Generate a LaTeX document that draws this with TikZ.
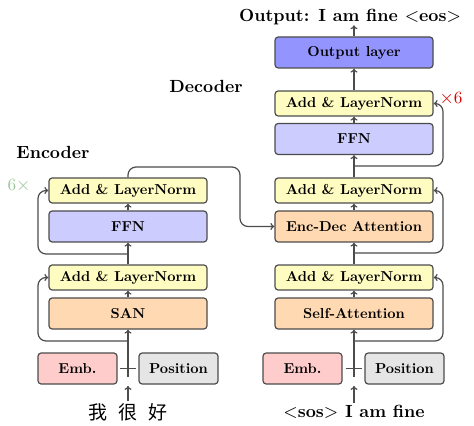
\documentclass[tikz,border=0pt]{standalone}
\usepackage{fontspec}
\setmainfont{lmroman10-regular.otf}[BoldFont=lmroman10-bold.otf, ItalicFont=lmroman10-italic.otf]
\newfontfamily\cjk{Noto Sans CJK SC}
\usetikzlibrary{arrows.meta}
\begin{document}
\begin{tikzpicture}[x=0.5pt,y=-0.5pt,
  box/.style={draw=black!70, line width=0.6pt, rounded corners=1.6pt, minimum width=79pt, inner sep=0pt, font=\fontsize{7.2}{8.6}\selectfont\bfseries},
  lnbox/.style={box, fill=yellow!24, minimum height=12.5pt},
  ffnbox/.style={box, fill=blue!20, minimum height=15.5pt},
  attbox/.style={box, fill=orange!30, minimum height=15.5pt},
  outbox/.style={box, fill=blue!42, minimum height=15.5pt},
  embbox/.style={box, fill=red!20, minimum width=39.5pt, minimum height=15.5pt},
  posbox/.style={box, fill=black!10, minimum width=39.5pt, minimum height=15.5pt},
  head/.style={font=\fontsize{8.8}{10}\selectfont\bfseries, inner sep=0pt},
  arr/.style={draw=black!70, line width=0.6pt, -{To[length=2pt,width=3.5pt]}},
  plainline/.style={draw=black!70, line width=0.6pt},
  plusn/.style={inner sep=0pt, minimum size=8pt}
]
\useasboundingbox (0,0) rectangle (474,426);
% Encoder
\node[head] (enctitle) at (53,152) {Encoder};
\node[inner sep=0pt, text=green!45!black!40!white, font=\fontsize{8.6}{10}\selectfont] (sixE) at (19,186) {6$\times$};
\node[lnbox] (encLN2) at (128,190.5) {Add \& LayerNorm};
\node[ffnbox] (encFFN) at (128,226.5) {FFN};
\node[lnbox] (encLN1) at (128,277.5) {Add \& LayerNorm};
\node[attbox] (SAN) at (128,313.5) {SAN};
\node[embbox] (embE) at (77.5,368.5) {Emb.};
\node[posbox] (posE) at (178.5,368.5) {Position};
\node[plusn] (plusE) at (128,368.5) {};
\node[inner sep=1pt, font=\cjk\fontsize{9.5}{10}\selectfont] (inE) at (128,412) {我\hspace{5.5pt}很\hspace{5.5pt}好};
% Decoder
\node[head] (dectitle) at (206,86.5) {Decoder};
\node[head] (outtext) at (350,17) {Output: I am fine $<$eos$>$};
\node[outbox] (outL) at (354,52.5) {Output layer};
\node[lnbox] (decLN3) at (354,103.5) {Add \& LayerNorm};
\node[inner sep=0pt, text=red!85!black, font=\fontsize{8.6}{10}\selectfont] (sixD) at (451,99) {$\times$6};
\node[ffnbox] (decFFN) at (354,139) {FFN};
\node[lnbox] (decLN2) at (354,190.5) {Add \& LayerNorm};
\node[attbox] (encdec) at (354,226.5) {Enc-Dec Attention};
\node[lnbox] (decLN1) at (354,277.5) {Add \& LayerNorm};
\node[attbox] (selfatt) at (354,313.5) {Self-Attention};
\node[embbox] (embD) at (302.5,368.5) {Emb.};
\node[posbox] (posD) at (404.5,368.5) {Position};
\node[plusn] (plusD) at (354,368.5) {};
\node[head, inner sep=1pt] (inD) at (354,412) {$<$sos$>$ I am fine};
% plus signs
\draw[plainline] (plusE.north) -- (plusE.south) (plusE.west) -- (plusE.east);
\draw[plainline] (plusD.north) -- (plusD.south) (plusD.west) -- (plusD.east);
% encoder connectors
\draw[arr, shorten >=4.5pt] (inE) -- (plusE);
\draw[arr] (plusE) -- (SAN);
\draw[arr] (SAN) -- (encLN1);
\draw[arr] (encLN1) -- (encFFN);
\draw[arr] (encFFN) -- (encLN2);
\coordinate (bE1) at (128,341);
\coordinate (bE2) at (128,254);
\draw[arr, rounded corners=4pt] (bE1) -| (38,277.5) -- (encLN1.west);
\draw[arr, rounded corners=4pt] (bE2) -| (38,190.5) -- (encLN2.west);
\draw[arr, rounded corners=4pt] (encLN2.north) |- (240,167) |- (encdec.west);
% decoder connectors
\draw[arr, shorten >=4.5pt] (inD) -- (plusD);
\draw[arr] (plusD) -- (selfatt);
\draw[arr] (selfatt) -- (decLN1);
\draw[arr] (decLN1) -- (encdec);
\draw[arr] (encdec) -- (decLN2);
\draw[arr] (decLN2) -- (decFFN);
\draw[arr] (decFFN) -- (decLN3);
\draw[arr] (decLN3) -- (outL);
\draw[arr] (outL) -- (outtext.south -| outL.north);
\coordinate (bD1) at (354,341);
\coordinate (bD2) at (354,253);
\coordinate (bD3) at (354,166);
\draw[arr, rounded corners=4pt] (bD1) -| (443,277.5) -- (decLN1.east);
\draw[arr, rounded corners=4pt] (bD2) -| (443,190.5) -- (decLN2.east);
\draw[arr, rounded corners=4pt] (bD3) -| (443,103.5) -- (decLN3.east);
\end{tikzpicture}
\end{document}
